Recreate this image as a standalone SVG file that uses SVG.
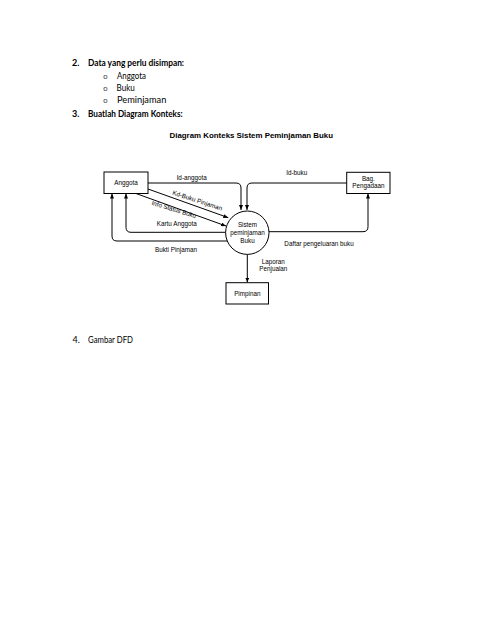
<svg xmlns="http://www.w3.org/2000/svg" width="495" height="640" viewBox="0 0 495 640">
<defs>
<style>
.doc{font-family:Lato,"Liberation Sans",sans-serif;font-size:9px;fill:#000}
.b{font-weight:bold}
.bul{font-family:"Liberation Mono","Courier New",monospace;font-size:8px;fill:#333}
.t{font-family:"Liberation Sans",Arial,sans-serif;font-size:6.3px;fill:#000;text-anchor:middle}
.title{font-family:"Liberation Sans",Arial,sans-serif;font-size:7.9px;font-weight:bold;fill:#000;text-anchor:middle}
.box{fill:#fff;stroke:#000;stroke-width:1}
.ln{fill:none;stroke:#000;stroke-width:1}
</style>
<marker id="ah" viewBox="0 0 10 8" markerWidth="5" markerHeight="4" refX="10" refY="4" orient="auto" markerUnits="userSpaceOnUse">
<path d="M0,0 L10,4 L0,8 z" fill="#000"/>
</marker>
</defs>
<rect width="495" height="640" fill="#fff"/>
<g id="page-text">
<text class="doc b" x="72" y="65.5">2.</text>
<text class="doc b" x="88" y="65.5" textLength="96" lengthAdjust="spacingAndGlyphs">Data yang perlu disimpan:</text>
<text class="bul" x="103" y="78.5">o</text>
<text class="doc" x="117" y="78.5" textLength="29" lengthAdjust="spacingAndGlyphs">Anggota</text>
<text class="bul" x="103" y="91">o</text>
<text class="doc" x="116.5" y="91" textLength="18.3" lengthAdjust="spacingAndGlyphs">Buku</text>
<text class="bul" x="103" y="103">o</text>
<text class="doc" x="117" y="103" textLength="49.3" lengthAdjust="spacingAndGlyphs">Peminjaman</text>
<text class="doc b" x="72" y="116.5">3.</text>
<text class="doc b" x="88" y="116.5" textLength="94.7" lengthAdjust="spacingAndGlyphs">Buatlah Diagram Konteks:</text>
<text class="doc" x="72.5" y="342.5">4.</text>
<text class="doc" x="88" y="342.5" textLength="45" lengthAdjust="spacingAndGlyphs">Gambar DFD</text>
<text class="title" x="251.3" y="137.5">Diagram Konteks Sistem Peminjaman Buku</text>
</g>
<g id="connectors">
<path class="ln" d="M148,183 H236 Q241,183 241,188 V210" marker-end="url(#ah)"/>
<path class="ln" d="M347,183 H252 Q247,183 247,188 V210" marker-end="url(#ah)"/>
<path class="ln" d="M148,189 L228.3,217.7" marker-end="url(#ah)"/>
<path class="ln" d="M136,193.5 L226,226" marker-end="url(#ah)"/>
<path class="ln" d="M225.8,232.3 H131 Q126,232.3 126,227.3 V193.5" marker-end="url(#ah)"/>
<path class="ln" d="M227.3,241 H117 Q112,241 112,236 V193.5" marker-end="url(#ah)"/>
<path class="ln" d="M269,231.7 H363 Q368,231.7 368,226.7 V193.5" marker-end="url(#ah)"/>
<path class="ln" d="M247.3,254.3 V282.5" marker-end="url(#ah)"/>
<text class="t" x="191.7" y="180">Id-anggota</text>
<text class="t" x="296.7" y="174.5">Id-buku</text>
<text class="t" transform="translate(196.7,202.5) rotate(18)" x="0" y="0">Kd-Buku Pinjaman</text>
<text class="t" transform="translate(173.3,211.5) rotate(17)" x="0" y="0">Info Status Buku</text>
<text class="t" x="176.7" y="225.5">Kartu Anggota</text>
<text class="t" x="176" y="251.5">Bukti Pinjaman</text>
<text class="t" x="319" y="246">Daftar pengeluaran buku</text>
<text class="t" x="273.3" y="264">Laporan</text>
<text class="t" x="273.3" y="271.3">Penjualan</text>
</g>
<g id="anggota">
<rect class="box" x="104" y="172" width="44" height="21.5"/>
<text class="t" x="126" y="185">Anggota</text>
</g>
<g id="bag-pengadaan">
<rect class="box" x="346.7" y="172.3" width="43.3" height="21.2"/>
<text class="t" x="368.4" y="180.8">Bag.</text>
<text class="t" x="368.4" y="188">Pengadaan</text>
</g>
<g id="sistem">
<circle class="box" cx="247.3" cy="232.7" r="21.7"/>
<text class="t" x="247.5" y="227">Sistem</text>
<text class="t" x="247.5" y="235.3">peminjaman</text>
<text class="t" x="247.5" y="243">Buku</text>
</g>
<g id="pimpinan">
<rect class="box" x="226" y="282.7" width="42.5" height="21.3"/>
<text class="t" x="247.3" y="295.5">Pimpinan</text>
</g>
</svg>
